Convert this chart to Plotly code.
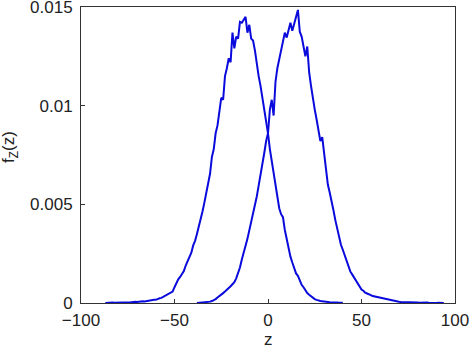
import numpy as np
import plotly.graph_objects as go

# Bin centres (z) for the two empirical densities
z_left = np.arange(-87, 41)
z_right = np.arange(-38, 95)

# Density values f_Z(z)
f_left = [
    0.00000, 0.00001, 0.00000, 0.00001, 0.00002, 0.00001, 0.00002, 0.00001, 0.00003, 0.00002,
    0.00002, 0.00004, 0.00003, 0.00003, 0.00005, 0.00004, 0.00006, 0.00005, 0.00007, 0.00006,
    0.00009, 0.00008, 0.00010, 0.00012, 0.00011, 0.00015, 0.00017, 0.00016, 0.00021, 0.00024,
    0.00026, 0.00031, 0.00035, 0.00040, 0.00046, 0.00052, 0.00058, 0.00080, 0.00102, 0.00120,
    0.00132, 0.00148, 0.00162, 0.00190, 0.00210, 0.00230, 0.00255, 0.00292, 0.00315, 0.00350,
    0.00385, 0.00430, 0.00465, 0.00510, 0.00555, 0.00610, 0.00655, 0.00740, 0.00780, 0.00860,
    0.00900, 0.00970, 0.01040, 0.01030, 0.01150, 0.01190, 0.01240, 0.01220, 0.01370, 0.01290,
    0.01350, 0.01340, 0.01425, 0.01420, 0.01435, 0.01450, 0.01370, 0.01410, 0.01340, 0.01330,
    0.01280, 0.01210, 0.01150, 0.01100, 0.01040, 0.00990, 0.00930, 0.00860, 0.00780, 0.00720,
    0.00660, 0.00600, 0.00550, 0.00480, 0.00450, 0.00435, 0.00370, 0.00320, 0.00265, 0.00235,
    0.00205, 0.00180, 0.00150, 0.00138, 0.00110, 0.00092, 0.00080, 0.00062, 0.00050, 0.00042,
    0.00033, 0.00026, 0.00020, 0.00016, 0.00012, 0.00010, 0.00009, 0.00007, 0.00005, 0.00006,
    0.00004, 0.00003, 0.00004, 0.00002, 0.00003, 0.00001, 0.00002, 0.00001,
]

f_right = [
    0.00000, 0.00001, 0.00001, 0.00002, 0.00002, 0.00004, 0.00005, 0.00007, 0.00010, 0.00014,
    0.00020, 0.00028, 0.00034, 0.00042, 0.00050, 0.00058, 0.00066, 0.00075, 0.00085, 0.00095,
    0.00105, 0.00125, 0.00150, 0.00180, 0.00220, 0.00250, 0.00290, 0.00325, 0.00365, 0.00410,
    0.00450, 0.00495, 0.00540, 0.00595, 0.00645, 0.00700, 0.00760, 0.00820, 0.00860, 0.00980,
    0.01030, 0.00950, 0.01120, 0.01190, 0.01240, 0.01280, 0.01320, 0.01370, 0.01345, 0.01385,
    0.01420, 0.01380, 0.01420, 0.01460, 0.01485, 0.01375, 0.01350, 0.01300, 0.01250, 0.01300,
    0.01170, 0.01100, 0.01030, 0.00980, 0.00930, 0.00870, 0.00820, 0.00840, 0.00750, 0.00670,
    0.00600, 0.00560, 0.00520, 0.00470, 0.00420, 0.00380, 0.00330, 0.00295, 0.00270, 0.00240,
    0.00220, 0.00190, 0.00160, 0.00145, 0.00130, 0.00110, 0.00095, 0.00080, 0.00068, 0.00062,
    0.00052, 0.00048, 0.00045, 0.00040, 0.00035, 0.00033, 0.00030, 0.00027, 0.00024, 0.00022,
    0.00020, 0.00017, 0.00016, 0.00014, 0.00012, 0.00010, 0.00009, 0.00007, 0.00006, 0.00005,
    0.00005, 0.00004, 0.00004, 0.00003, 0.00004, 0.00003, 0.00002, 0.00003, 0.00002, 0.00001,
    0.00002, 0.00001, 0.00001, 0.00002, 0.00001, 0.00000, 0.00001, 0.00001, 0.00000, 0.00001,
    0.00000, 0.00001, 0.00000,
]

x_ticks = [-100, -50, 0, 50, 100]
y_ticks = [0, 0.005, 0.01, 0.015]
y_tick_text = ["0", "0.005", "0.01", "0.015"]

line_color = "#0a0adc"
font = dict(family="Liberation Sans, Arial, sans-serif", size=17, color="#222222")

fig = go.Figure()
fig.add_trace(go.Scatter(x=z_left, y=f_left, mode="lines",
                         line=dict(color=line_color, width=2), showlegend=False))
fig.add_trace(go.Scatter(x=z_right, y=f_right, mode="lines",
                         line=dict(color=line_color, width=2), showlegend=False))

axis_common = dict(showline=True, mirror=True, linecolor="#333333", linewidth=1,
                   ticks="inside", ticklen=4, tickcolor="#333333", showgrid=False,
                   zeroline=False, tickfont=font, ticklabeloverflow="allow",
                   automargin=False)

fig.update_xaxes(range=[-100, 100], tickvals=x_ticks, ticklabelstandoff=2, **axis_common)
fig.update_yaxes(range=[0, 0.015], tickvals=y_ticks, ticktext=y_tick_text,
                 ticklabelstandoff=4, **axis_common)

fig.add_annotation(text="z", xref="paper", yref="paper", x=0.5, y=0, yshift=-25,
                   yanchor="top", showarrow=False, font=font)
fig.add_annotation(text="f<sub>Z</sub>(z)", xref="paper", yref="paper", x=0, xshift=-71,
                   y=0.5, yshift=8, textangle=-90, xanchor="center", showarrow=False,
                   font=font)

fig.update_layout(width=474, height=345, margin=dict(l=81, r=19, t=7, b=42),
                  plot_bgcolor="white", paper_bgcolor="white", font=font)

fig.write_html("out.html")
